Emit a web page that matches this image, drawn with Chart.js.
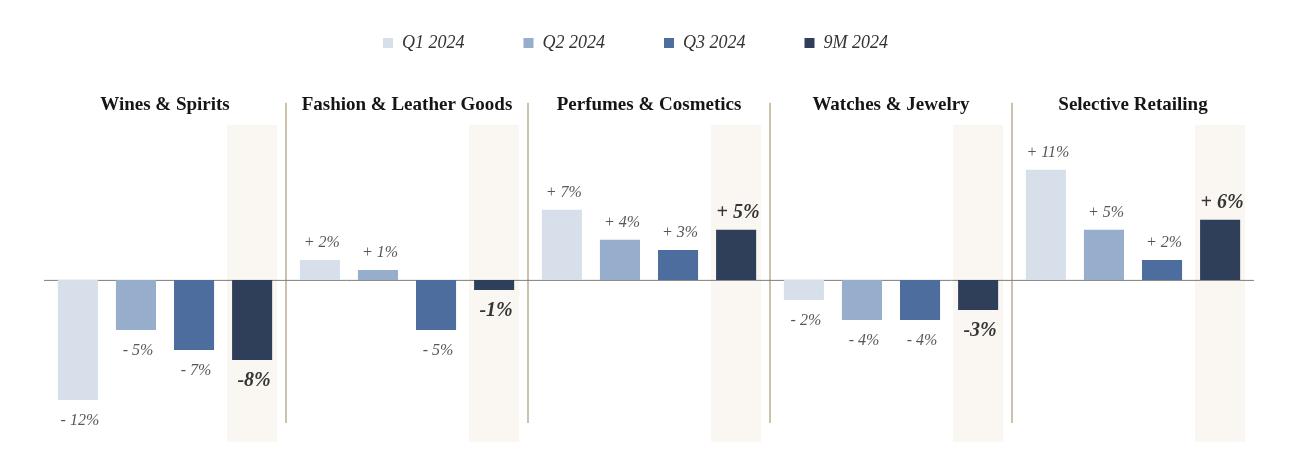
<!DOCTYPE html>
<html>
<head>
<meta charset="utf-8">
<script src="https://cdn.jsdelivr.net/npm/chart.js@4"></script>
<style>
    html, body { margin: 0; padding: 0; background: #ffffff; }
    #wrap { width: 1296px; height: 458px; position: relative; }
</style>
</head>
<body>
<div id="wrap"><canvas id="growthChart"></canvas></div>
<script>
// Organic revenue growth by business group, per period.
const categories = ['Wines & Spirits', 'Fashion & Leather Goods', 'Perfumes & Cosmetics', 'Watches & Jewelry', 'Selective Retailing'];
const seriesNames = ['Q1 2024', 'Q2 2024', 'Q3 2024', '9M 2024'];
const q1Values = [-12, 2, 7, -2, 11];
const q2Values = [-5, 1, 4, -4, 5];
const q3Values = [-7, -5, 3, -4, 2];
const nineMonthValues = [-8, -1, 5, -3, 6];

const barColors = ['#d6dfea', '#97adcc', '#4e6d9f', '#2f3f5a'];
const SERIF = "'Liberation Serif', 'DejaVu Serif', serif";

function fmtQuarter(v) {
    return (v >= 0 ? '+ ' : '- ') + Math.abs(v) + '%';
}
function fmtNineMonth(v) {
    return v >= 0 ? '+ ' + v + '%' : '-' + Math.abs(v) + '%';
}

// Pale band behind the 9M bars + separators + zero line
const backdrop = {
    id: 'backdrop',
    beforeDatasetsDraw(chart) {
        const { ctx, chartArea, scales } = chart;
        const meta = chart.getDatasetMeta(3);
        ctx.save();
        ctx.fillStyle = '#faf7f2';
        meta.data.forEach(bar => {
            const w = bar.width + 10;
            ctx.fillRect(bar.x - w / 2, chartArea.top, w, chartArea.bottom - chartArea.top);
        });

        ctx.strokeStyle = '#b9ae90';
        ctx.lineWidth = 1.5;
        for (let i = 0; i < categories.length - 1; i++) {
            const x = (scales.x.getPixelForValue(i) + scales.x.getPixelForValue(i + 1)) / 2;
            ctx.beginPath();
            ctx.moveTo(x, chartArea.top - 22);
            ctx.lineTo(x, chartArea.bottom - 19);
            ctx.stroke();
        }

        const y0 = scales.y.getPixelForValue(0);
        ctx.strokeStyle = '#7d7d7d';
        ctx.lineWidth = 1;
        ctx.beginPath();
        ctx.moveTo(chartArea.left, y0 + 0.5);
        ctx.lineTo(chartArea.right, y0 + 0.5);
        ctx.stroke();
        ctx.restore();
    }
};

// Value labels above / below each bar
const valueLabels = {
    id: 'valueLabels',
    afterDatasetsDraw(chart) {
        const { ctx } = chart;
        ctx.save();
        ctx.textAlign = 'center';
        ctx.textBaseline = 'middle';
        chart.data.datasets.forEach((ds, di) => {
            const isTotal = di === 3;
            ctx.font = isTotal ? `italic bold 20px ${SERIF}` : `italic 16px ${SERIF}`;
            ctx.fillStyle = isTotal ? '#353535' : '#575757';
            chart.getDatasetMeta(di).data.forEach((bar, i) => {
                const v = ds.data[i];
                const txt = isTotal ? fmtNineMonth(v) : fmtQuarter(v);
                const y = v >= 0 ? bar.y - 17 : bar.y + 21;
                ctx.fillText(txt, bar.x + 2, y);
            });
        });
        ctx.restore();
    }
};

// the legend sits a little left of the page centre in the original
const legendNudge = {
    id: 'legendNudge',
    afterLayout(chart) {
        chart.legend.left -= 27;
    }
};

const allSeries = [q1Values, q2Values, q3Values, nineMonthValues];

new Chart(document.getElementById('growthChart'), {
    type: 'bar',
    data: {
        labels: categories,
        datasets: allSeries.map((vals, i) => ({
            label: seriesNames[i],
            data: vals,
            backgroundColor: barColors[i],
            borderWidth: 0,
            categoryPercentage: 0.96,
            barPercentage: 0.69
        }))
    },
    options: {
        responsive: true,
        maintainAspectRatio: false,
        animation: false,
        layout: { padding: { top: -25, left: 44, right: 42, bottom: 16 } },
        plugins: {
            legend: {
                position: 'top',
                labels: {
                    boxWidth: 10,
                    boxHeight: 10,
                    padding: 59,
                    color: '#333333',
                    font: { family: SERIF, size: 18, style: 'italic' }
                }
            },
            tooltip: { enabled: false }
        },
        scales: {
            x: {
                position: 'top',
                grid: { display: false, tickLength: 0 },
                border: { display: false },
                ticks: {
                    color: '#151515',
                    padding: 8,
                    font: { family: SERIF, size: 19, weight: 'bold' }
                },
                afterFit(scale) { scale.height += 24; }
            },
            y: {
                display: false,
                min: -16.2,
                max: 15.5
            }
        }
    },
    plugins: [backdrop, valueLabels, legendNudge]
});
</script>
</body>
</html>
